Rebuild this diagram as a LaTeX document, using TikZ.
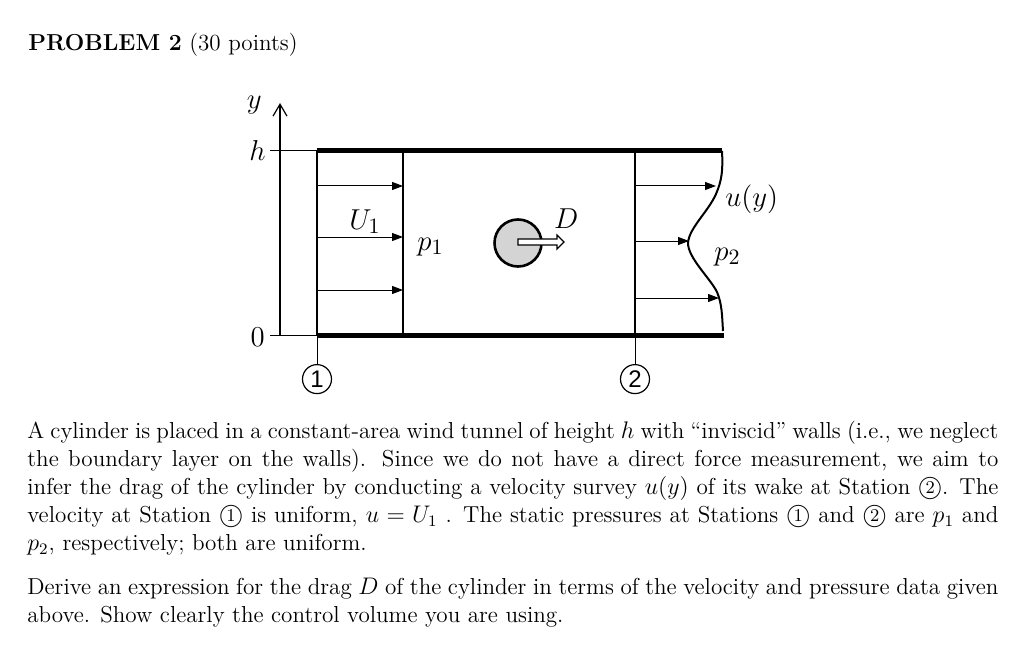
\documentclass[tikz,border=0pt]{standalone}
\usepackage{fontspec}
\usepackage{amsmath}
\usetikzlibrary{positioning,arrows.meta}
\newfontfamily\stationfont{Liberation Sans}
\newcommand{\stn}[1]{\textcircled{\small #1}}
\tikzset{
  wall/.style={line width=2.5pt},
  station/.style={line width=1pt},
  leader/.style={line width=0.5pt},
  flow/.style={line width=0.5pt,-{Triangle[length=5.5pt,width=4pt]}},
  stationtag/.style={circle,draw,line width=0.6pt,minimum size=14.5pt,inner sep=0pt,font=\stationfont\fontsize{12}{12}\selectfont},
  lbl/.style={inner sep=0pt,font=\fontsize{15}{15}\selectfont},
  bodytext/.style={anchor=north west,inner sep=0pt,text width=485.5pt,align=justify,font=\fontsize{11.55}{14.05}\selectfont}
}
\begin{document}
\begin{tikzpicture}[x=0.5pt,y=-0.5pt]
  \useasboundingbox (0,0) rectangle (1032,668);
  \node [anchor=base west,inner sep=0pt,font=\fontsize{11.55}{14}\selectfont] (title) at (28,51) {\textbf{PROBLEM 2} (30 points)};
  % tunnel
  \coordinate (top1) at (317,151);
  \coordinate [below=92pt of top1] (low1);
  \coordinate [right=43pt of top1] (top2);
  \coordinate [right=43pt of low1] (low2);
  \coordinate [right=159pt of top1] (top3);
  \coordinate [right=159pt of low1] (low3);
  \coordinate [right=202.5pt of top1] (topend);
  \coordinate [right=203.5pt of low1] (lowend);
  \draw [station] (top1) -- (low1);
  \draw [station] (top2) -- (low2);
  \draw [station] (top3) -- (low3);
  \draw [wall] (top1) -- (topend);
  \draw [wall] (low1) -- (lowend);
  % axis
  \coordinate [left=18.5pt of low1] (base);
  \coordinate [above=116pt of base] (tip);
  \draw [line width=0.6pt,-{Straight Barb[length=6pt,width=7pt]}] (base) -- (tip);
  \node [lbl,left=9pt of tip,yshift=-1pt] (ylab) {\(y\)};
  \node [lbl,left=25.5pt of top1] (hlab) {\(h\)};
  \node [lbl,left=26pt of low1,yshift=-1pt] (zerolab) {\(0\)};
  \draw [leader] (hlab.east) ++(2pt,0) -- (top1);
  \draw [leader] (zerolab.east) ++(2.5pt,1pt) -- (low1);
  % stations
  \node [stationtag,below=14.5pt of low1] (st1) {1};
  \node [stationtag,below=14.5pt of low3] (st2) {2};
  \draw [leader] (low1) -- (st1);
  \draw [leader] (low3) -- (st2);
  % inlet arrows
  \coordinate [below=17.5pt of top1] (a1);
  \coordinate [below=43pt of top1] (a2);
  \coordinate [below=69.5pt of top1] (a3);
  \coordinate [right=43pt of a1] (b1);
  \coordinate [right=43pt of a2] (b2);
  \coordinate [right=43pt of a3] (b3);
  \draw [flow] (a1) -- (b1);
  \draw [flow] (a2) -- (b2);
  \draw [flow] (a3) -- (b3);
  \node [lbl,above right=1.5pt and 16pt of a2] (U1) {\(U_1\)};
  \node [lbl,right=7pt of b2,yshift=-5pt] (p1) {\(p_1\)};
  % cylinder
  \node [circle,draw,line width=1.3pt,fill=black!17,minimum size=23.5pt,inner sep=0pt] (cyl) at (518,243) {};
  \draw [line width=0.6pt,fill=white] (cyl.center) ++(0,-1pt) -- ++(19.5pt,0) -- ++(0,-2pt) -- ++(3.5pt,3.5pt) -- ++(-3.5pt,3.5pt) -- ++(0,-2pt) -- ++(-19.5pt,0) -- cycle;
  \node [lbl,above right=7pt and 5.5pt of cyl.east] (D) {\(D\)};
  % wake
  \coordinate [below=17.5pt of top3] (c1);
  \coordinate [below=45pt of top3] (c2);
  \coordinate [below=73.5pt of top3] (c3);
  \coordinate (d1) at (716,186);
  \coordinate (d2) at (689,241);
  \coordinate (d3) at (719,298);
  \draw [flow] (c1) -- (d1);
  \draw [flow] (c2) -- (d2);
  \draw [flow] (c3) -- (d3);
  \draw [line width=1pt] (topend) .. controls (723,170) and (722,180) .. (716,194)
    .. controls (708,212) and (689,228) .. (688,243)
    .. controls (688,258) and (710,278) .. (717,292)
    .. controls (722,304) and (722,315) .. (723,331);
  \node [lbl,right=4.5pt of d1,yshift=-6.5pt] (uy) {\(u(y)\)};
  \node [lbl,right=12.5pt of d2,yshift=-8pt] (p2) {\(p_2\)};
  % text
  \node [bodytext] (para1) at (27,420.5) {A cylinder is placed in a constant-area wind tunnel of height \(h\) with ``inviscid'' walls (i.e., we neglect\linebreak the boundary layer on the walls). Since we do not have a direct force measurement, we aim to\linebreak infer the drag of the cylinder by conducting a velocity survey \(u(y)\) of its wake at Station \stn{2}. The\linebreak velocity at Station \stn{1} is uniform, \(u=U_1\) . The static pressures at Stations \stn{1} and \stn{2} are \(p_1\) and\linebreak \(p_2\), respectively; both are uniform.};
  \node [bodytext] (para2) at (27,577.5) {Derive an expression for the drag \(D\) of the cylinder in terms of the velocity and pressure data given\linebreak above. Show clearly the control volume you are using.};
\end{tikzpicture}
\end{document}
